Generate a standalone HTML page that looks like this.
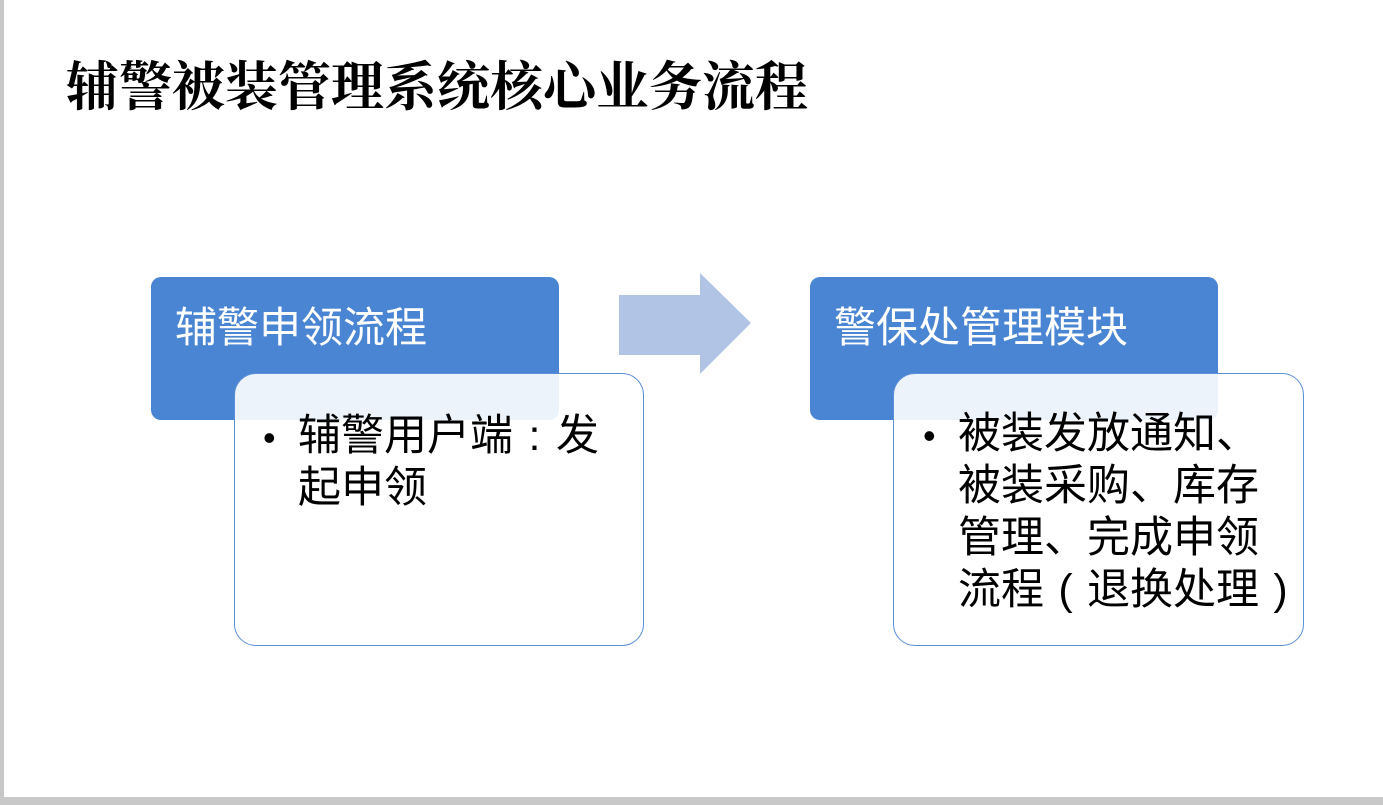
<!DOCTYPE html>
<html><head><meta charset="utf-8"><style>
body{margin:0;width:1383px;height:805px;background:#c8c8c8;position:relative;overflow:hidden;font-family:"Liberation Sans","Noto Sans CJK SC",sans-serif}
.slide{position:absolute;left:4px;top:0;width:1379px;height:797px;background:#fff}
.title{position:absolute;left:66px;top:56px;font-family:"Liberation Serif","Noto Serif CJK SC",serif;font-weight:bold;font-size:53px;line-height:64px;color:#000;white-space:nowrap}
.blue{position:absolute;background:#4985d2;border-radius:10px;color:#fff;font-size:42px;line-height:50px;padding-left:24px;box-sizing:border-box;padding-top:26px}
.white{position:absolute;background:rgba(255,255,255,0.9);border:1.5px solid #5b8fd6;border-radius:22px;box-sizing:border-box;font-size:43px;line-height:52px;color:#000}
.white .b{position:absolute;font-size:36px;font-family:"Liberation Sans",sans-serif}
.white .t{position:absolute;white-space:nowrap}
</style></head><body>
<div class="slide"></div>
<div class="title">辅警被装管理系统核心业务流程</div>
<div class="blue" style="left:151px;top:277px;width:408px;height:143px">辅警申领流程</div>
<div class="white" style="left:234px;top:373px;width:410px;height:273px">
<div class="b" style="left:28px;top:38px">•</div>
<div class="t" style="left:63px;top:36px">辅警用户端<span style="display:inline-block;width:43px;text-align:center">:</span>发<br>起申领</div></div>
<svg style="position:absolute;left:0;top:0" width="1383" height="805"><polygon points="619,295 700,295 700,273 751,323 700,374 700,355 619,355" fill="#b1c4e6"/></svg>
<div class="blue" style="left:810px;top:277px;width:408px;height:143px">警保处管理模块</div>
<div class="white" style="left:893px;top:373px;width:411px;height:273px">
<div class="b" style="left:29px;top:36px">•</div>
<div class="t" style="left:64px;top:34px">被装发放通知、<br>被装采购、库存<br>管理、完成申领<br>流程<span style="display:inline-block;width:43px;text-align:center">(</span>退换处理<span style="display:inline-block;width:43px;text-align:center">)</span></div></div>
</body></html>
